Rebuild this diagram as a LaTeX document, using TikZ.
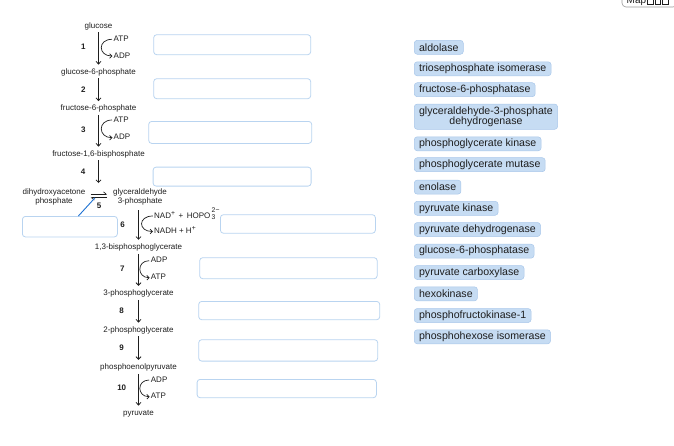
\documentclass[tikz,border=0pt]{standalone}
\usepackage{fontspec}
\setmainfont{Liberation Sans}
\usetikzlibrary{arrows.meta,calc}
\definecolor{txt}{HTML}{1E1E1E}
\definecolor{ansblue}{HTML}{B9D4F0}
\definecolor{chipfill}{HTML}{C6DCF3}
\definecolor{chipdraw}{HTML}{A9C7EA}
\definecolor{linkblue}{HTML}{1E72D2}
\definecolor{mapgray}{HTML}{9A9A9A}
\newcommand\myup[1]{\raisebox{3pt}{\fontsize{6.8}{7}\selectfont #1}}
\begin{document}
\begin{tikzpicture}[x=1pt,y=-1pt,
  lbl/.style={font=\fontsize{8}{9}\selectfont, inner sep=0pt, text height=5.8pt, text depth=1.7pt, text=txt},
  two/.style={font=\fontsize{8}{9}\selectfont, inner sep=0pt, align=center, text=txt},
  num/.style={lbl, font=\fontsize{8}{9}\selectfont\bfseries},
  side/.style={lbl, anchor=west},
  ans/.style={draw=ansblue, fill=white, rounded corners=3pt, line width=0.8pt, anchor=north west, inner sep=0pt},
  chip/.style={fill=chipfill, draw=chipdraw, line width=0.5pt, rounded corners=3pt, anchor=west,
    font=\fontsize{10.6}{10.8}\selectfont, text=txt, inner xsep=4.8pt, inner ysep=0pt, minimum height=14pt, align=center},
  main/.style={draw=txt, line width=0.8pt, shorten <=2.5pt, shorten >=3.5pt, -{Straight Barb[length=2.6pt,width=5pt]}},
  sidearr/.style={draw=txt, line width=0.7pt, -{Straight Barb[length=2.4pt,width=4.6pt]}},
  harp/.style={draw=txt, line width=0.7pt, -{Straight Barb[left,length=2.6pt,width=5pt]}}
]
\clip (0,0) rectangle (674,445);
\useasboundingbox (0,0) rectangle (674,445);

% Map button (cut at top)
\draw[mapgray, fill=white, line width=0.6pt, rounded corners=4pt] (622,-10) rectangle (677,7);
\node[font=\fontsize{10}{10}\selectfont, text=txt, inner sep=0pt, anchor=base west] (map) at (626.5,3.5) {Map};
\foreach \i in {0,1,2}{\draw[txt, line width=0.5pt] (647.5+\i*7.6,-3) rectangle (653+\i*7.6,4.5);}

% left column labels
\node[lbl] (glc) at (98.5,26) {glucose};
\node[lbl] (g6p) at (98.5,72) {glucose-6-phosphate};
\node[lbl] (f6p) at (98.5,108.5) {fructose-6-phosphate};
\node[lbl] (fbp) at (98.5,154) {fructose-1,6-bisphosphate};
\node[two] (dhap) at (54,196.5) {dihydroxyacetone\\phosphate};
\node[two] (gap) at (140,196.5) {glyceraldehyde\\3-phosphate};
\node[lbl] (bpg) at (138.5,247.5) {1,3-bisphosphoglycerate};
\node[lbl] (pg3) at (138.5,293.3) {3-phosphoglycerate};
\node[lbl] (pg2) at (138.5,330) {2-phosphoglycerate};
\node[lbl] (pep) at (138.5,367.3) {phosphoenolpyruvate};
\node[lbl] (pyr) at (138.5,413) {pyruvate};

% numbers
\node[num] (n1) at (83.3,47.7) {1};
\node[num] (n2) at (83.3,90) {2};
\node[num] (n3) at (83.3,130.7) {3};
\node[num] (n4) at (83,172.7) {4};
\node[num] (n5) at (99,206.7) {5};
\node[num] (n6) at (122.7,225) {6};
\node[num] (n7) at (122.3,269) {7};
\node[num] (n8) at (121.7,311.7) {8};
\node[num] (n9) at (121.7,348.3) {9};
\node[num] (n10) at (121.7,388.3) {10};

% side species
\node[side] (atp1) at (113.5,39.3) {ATP};
\node[side] (adp1) at (113.5,56) {ADP};
\node[side] (atp3) at (113.5,120) {ATP};
\node[side] (adp3) at (113.5,137.7) {ADP};
\node[side] (nad) at (154,216) {NAD\myup{+}\, + \,HOPO\,\raisebox{-1.8pt}{\fontsize{6.8}{5.6}\selectfont\shortstack[l]{2−\\3}}};
\node[side] (nadh) at (154,231.5) {NADH + H\myup{+}};
\node[side] (adp7) at (150.7,260.7) {ADP};
\node[side] (atp7) at (150.7,277.7) {ATP};
\node[side] (adp10) at (150.7,380) {ADP};
\node[side] (atp10) at (150.7,396.7) {ATP};

% main arrows
\coordinate (a4end) at (98.5,183);
\draw[main] (glc) -- (g6p);
\draw[main] (g6p) -- (f6p);
\draw[main] (f6p) -- (fbp);
\draw[main, shorten >=0pt] (fbp) -- (a4end);
\draw[main, shorten <=5.2pt, shorten >=3.8pt] (bpg.north |- gap.south) -- (bpg.north);
\draw[main] (bpg) -- (pg3);
\draw[main] (pg3) -- (pg2);
\draw[main] (pg2) -- (pep);
\draw[main] (pep) -- (pyr);

% side curved arrows
\draw[sidearr] ([xshift=-1.5pt]atp1.west) .. controls +(-14.5,0) and +(-14.5,0) .. ([xshift=-1pt]adp1.west);
\draw[sidearr] ([xshift=-1.5pt]atp3.west) .. controls +(-14.5,0) and +(-14.5,0) .. ([xshift=-1pt]adp3.west);
\draw[sidearr] ([xshift=-1.2pt]nad.west) .. controls +(-15,0) and +(-15,0) .. ([xshift=-1pt]nadh.west);
\draw[sidearr] ([xshift=-1.5pt]adp7.west) .. controls +(-12.7,0) and +(-12.7,0) .. ([xshift=-1pt]atp7.west);
\draw[sidearr] ([xshift=-1.5pt]adp10.west) .. controls +(-12.7,0) and +(-12.7,0) .. ([xshift=-1pt]atp10.west);

% equilibrium (step 5)
\coordinate (eqa) at (90.7,194.3);
\coordinate (eqb) at (107,194.3);
\coordinate (eqc) at (107,197.6);
\coordinate (eqd) at (90.7,197.6);
\draw[harp] (eqa) -- (eqb);
\draw[harp] (eqc) -- (eqd);

% answer boxes
\node[ans, minimum width=157pt, minimum height=20pt] (b1) at (153.3,34.3) {};
\node[ans, minimum width=157pt, minimum height=20pt] (b2) at (153.3,78.3) {};
\node[ans, minimum width=163pt, minimum height=22pt] (b3) at (148.3,121) {};
\node[ans, minimum width=158pt, minimum height=19pt] (b4) at (152.7,166.7) {};
\node[ans, minimum width=95pt, minimum height=20.5pt] (b5) at (22,216) {};
\node[ans, minimum width=155pt, minimum height=18.5pt] (b6) at (220,214.3) {};
\node[ans, minimum width=177.5pt, minimum height=21pt] (b7) at (199.3,257.3) {};
\node[ans, minimum width=181pt, minimum height=18.3pt] (b8) at (198.3,301) {};
\node[ans, minimum width=179pt, minimum height=21.4pt] (b9) at (198.3,339.3) {};
\node[ans, minimum width=179.3pt, minimum height=18.3pt] (b10) at (196.7,379) {};

% link from step 5 to its box
\coordinate (eqlink) at (95,197.8);
\draw[linkblue, line width=0.9pt] (eqlink) -- ([xshift=8.5pt]b5.north);

% enzyme chips
\node[chip] (c1) at (414,47.3) {aldolase};
\node[chip] (c2) at (414,68.8) {triosephosphate isomerase};
\node[chip] (c3) at (414,89.7) {fructose-6-phosphatase};
\node[chip, inner ysep=2.3pt] (c4) at (414,116.7) {glyceraldehyde-3-phosphate\\dehydrogenase};
\node[chip] (c5) at (414,143.8) {phosphoglycerate kinase};
\node[chip] (c6) at (414,164.7) {phosphoglycerate mutase};
\node[chip] (c7) at (414,187.1) {enolase};
\node[chip] (c8) at (414,208.3) {pyruvate kinase};
\node[chip] (c9) at (414,229.5) {pyruvate dehydrogenase};
\node[chip] (c10) at (414,251.2) {glucose-6-phosphatase};
\node[chip] (c11) at (414,272.5) {pyruvate carboxylase};
\node[chip] (c12) at (414,293.8) {hexokinase};
\node[chip] (c13) at (414,315.5) {phosphofructokinase-1};
\node[chip] (c14) at (414,336.8) {phosphohexose isomerase};
\end{tikzpicture}
\end{document}
